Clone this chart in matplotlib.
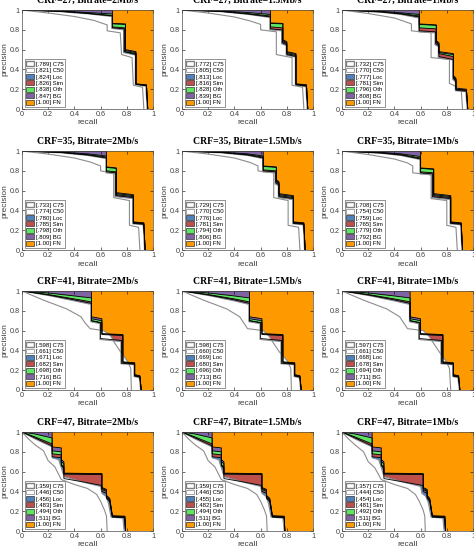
import matplotlib
matplotlib.use("Agg")
import matplotlib.pyplot as plt
from matplotlib.patches import Patch

# ---- data : precision/recall curves (recall, precision)
# CRF=27, 2Mb/s
a_c75 = [(0, 1), (0.2, 0.97), (0.4, 0.935), (0.55, 0.895), (0.65, 0.85), (0.65, 0.79), (0.75, 0.77), (0.76, 0.55), (0.84, 0.52), (0.85, 0.24), (0.92, 0.22), (0.93, 0)]
a_c50 = [(0, 1), (0.3, 0.983), (0.5, 0.962), (0.685, 0.935), (0.685, 0.815), (0.775, 0.8), (0.775, 0.57), (0.865, 0.545), (0.865, 0.245), (0.945, 0.23), (0.955, 0)]
a_loc = [(0, 1), (0.3, 0.985), (0.5, 0.965), (0.69, 0.94), (0.69, 0.82), (0.78, 0.81), (0.78, 0.58), (0.87, 0.55), (0.87, 0.25), (0.95, 0.235), (0.96, 0)]
a_sim = [(0, 1), (0.3, 0.987), (0.5, 0.968), (0.69, 0.945), (0.69, 0.83), (0.785, 0.82), (0.785, 0.58), (0.87, 0.56), (0.87, 0.25), (0.95, 0.24), (0.96, 0)]
a_oth = [(0, 1), (0.3, 0.99), (0.5, 0.975), (0.69, 0.96), (0.69, 0.86), (0.79, 0.855), (0.79, 0.59), (0.87, 0.57), (0.87, 0.25), (0.95, 0.24), (0.96, 0)]
a_bg = [(0, 1), (0.69, 1), (0.69, 0.865), (0.79, 0.86), (0.79, 0.6), (0.87, 0.58), (0.87, 0.255), (0.95, 0.245), (0.96, 0)]
a_ap = [".789", ".821", ".824", ".826", ".838", ".847", "1.00"]

# CRF=27, 1.5Mb/s
b_c75 = [(0, 1), (0.2, 0.97), (0.4, 0.93), (0.52, 0.89), (0.6, 0.855), (0.6, 0.8), (0.72, 0.78), (0.72, 0.55), (0.84, 0.52), (0.84, 0.24), (0.92, 0.22), (0.93, 0)]
b_c50 = [(0, 1), (0.3, 0.983), (0.5, 0.957), (0.67, 0.925), (0.67, 0.8), (0.76, 0.79), (0.76, 0.66), (0.795, 0.64), (0.795, 0.545), (0.865, 0.525), (0.865, 0.24), (0.945, 0.225), (0.955, 0)]
b_loc = [(0, 1), (0.3, 0.985), (0.5, 0.96), (0.675, 0.93), (0.675, 0.81), (0.765, 0.8), (0.765, 0.67), (0.8, 0.65), (0.8, 0.55), (0.87, 0.53), (0.87, 0.245), (0.95, 0.23), (0.96, 0)]
b_sim = [(0, 1), (0.3, 0.987), (0.5, 0.965), (0.675, 0.94), (0.675, 0.83), (0.77, 0.82), (0.77, 0.68), (0.8, 0.66), (0.8, 0.56), (0.87, 0.54), (0.87, 0.25), (0.95, 0.235), (0.96, 0)]
b_oth = [(0, 1), (0.3, 0.99), (0.5, 0.975), (0.675, 0.955), (0.675, 0.865), (0.77, 0.86), (0.77, 0.69), (0.8, 0.67), (0.8, 0.57), (0.87, 0.55), (0.87, 0.25), (0.95, 0.24), (0.96, 0)]
b_bg = [(0, 1), (0.675, 1), (0.675, 0.87), (0.77, 0.865), (0.77, 0.7), (0.8, 0.68), (0.8, 0.58), (0.87, 0.56), (0.87, 0.255), (0.95, 0.245), (0.96, 0)]
b_ap = [".772", ".805", ".813", ".816", ".828", ".839", "1.00"]

# CRF=27, 1Mb/s
c_c75 = [(0, 1), (0.2, 0.965), (0.4, 0.92), (0.53, 0.86), (0.53, 0.79), (0.68, 0.77), (0.68, 0.52), (0.82, 0.5), (0.82, 0.26), (0.91, 0.2), (0.92, 0)]
c_c50 = [(0, 1), (0.3, 0.977), (0.45, 0.955), (0.585, 0.92), (0.585, 0.78), (0.71, 0.77), (0.71, 0.65), (0.735, 0.63), (0.735, 0.52), (0.845, 0.495), (0.845, 0.3), (0.865, 0.275), (0.865, 0.185), (0.945, 0.175), (0.955, 0)]
c_loc = [(0, 1), (0.3, 0.98), (0.45, 0.96), (0.59, 0.93), (0.59, 0.79), (0.715, 0.78), (0.715, 0.66), (0.74, 0.64), (0.74, 0.53), (0.85, 0.5), (0.85, 0.31), (0.87, 0.28), (0.87, 0.19), (0.95, 0.18), (0.96, 0)]
c_sim = [(0, 1), (0.3, 0.983), (0.45, 0.965), (0.59, 0.94), (0.59, 0.82), (0.72, 0.81), (0.72, 0.67), (0.74, 0.65), (0.74, 0.56), (0.85, 0.53), (0.85, 0.32), (0.87, 0.29), (0.87, 0.2), (0.95, 0.19), (0.96, 0)]
c_oth = [(0, 1), (0.3, 0.987), (0.45, 0.972), (0.59, 0.955), (0.59, 0.855), (0.72, 0.845), (0.72, 0.68), (0.74, 0.66), (0.74, 0.57), (0.85, 0.55), (0.85, 0.33), (0.87, 0.3), (0.87, 0.2), (0.95, 0.19), (0.96, 0)]
c_bg = [(0, 1), (0.59, 1), (0.59, 0.86), (0.72, 0.85), (0.72, 0.69), (0.74, 0.67), (0.74, 0.58), (0.85, 0.56), (0.85, 0.34), (0.87, 0.31), (0.87, 0.21), (0.95, 0.2), (0.96, 0)]
c_ap = [".732", ".770", ".777", ".781", ".796", ".808", "1.00"]

# CRF=35, 2Mb/s
d_c75 = [(0, 1), (0.2, 0.97), (0.4, 0.93), (0.52, 0.89), (0.6, 0.85), (0.6, 0.8), (0.7, 0.78), (0.7, 0.53), (0.82, 0.5), (0.82, 0.25), (0.89, 0.23), (0.9, 0)]
d_c50 = [(0, 1), (0.3, 0.982), (0.5, 0.956), (0.64, 0.925), (0.64, 0.78), (0.71, 0.77), (0.71, 0.54), (0.845, 0.52), (0.845, 0.265), (0.925, 0.255), (0.935, 0)]
d_loc = [(0, 1), (0.3, 0.985), (0.5, 0.96), (0.645, 0.93), (0.645, 0.79), (0.715, 0.78), (0.715, 0.55), (0.85, 0.53), (0.85, 0.27), (0.93, 0.26), (0.94, 0)]
d_sim = [(0, 1), (0.3, 0.987), (0.5, 0.965), (0.645, 0.94), (0.645, 0.8), (0.72, 0.79), (0.72, 0.56), (0.85, 0.54), (0.85, 0.275), (0.93, 0.265), (0.94, 0)]
d_oth = [(0, 1), (0.3, 0.99), (0.5, 0.972), (0.645, 0.95), (0.645, 0.835), (0.72, 0.825), (0.72, 0.57), (0.85, 0.55), (0.85, 0.28), (0.93, 0.27), (0.94, 0)]
d_bg = [(0, 1), (0.645, 1), (0.645, 0.84), (0.72, 0.83), (0.72, 0.58), (0.85, 0.56), (0.85, 0.285), (0.93, 0.275), (0.94, 0)]
d_ap = [".733", ".774", ".780", ".785", ".798", ".809", "1.00"]

# CRF=35, 1.5Mb/s
e_c75 = [(0, 1), (0.2, 0.97), (0.4, 0.93), (0.52, 0.885), (0.58, 0.85), (0.58, 0.8), (0.7, 0.78), (0.7, 0.53), (0.81, 0.5), (0.81, 0.25), (0.89, 0.23), (0.9, 0)]
e_c50 = [(0, 1), (0.3, 0.982), (0.5, 0.956), (0.615, 0.925), (0.615, 0.79), (0.71, 0.78), (0.71, 0.67), (0.735, 0.65), (0.735, 0.53), (0.845, 0.51), (0.845, 0.265), (0.925, 0.255), (0.935, 0)]
e_loc = [(0, 1), (0.3, 0.985), (0.5, 0.96), (0.62, 0.93), (0.62, 0.8), (0.715, 0.79), (0.715, 0.68), (0.74, 0.66), (0.74, 0.54), (0.85, 0.52), (0.85, 0.27), (0.93, 0.26), (0.94, 0)]
e_sim = [(0, 1), (0.3, 0.987), (0.5, 0.965), (0.62, 0.94), (0.62, 0.81), (0.72, 0.8), (0.72, 0.69), (0.74, 0.67), (0.74, 0.55), (0.85, 0.53), (0.85, 0.275), (0.93, 0.265), (0.94, 0)]
e_oth = [(0, 1), (0.3, 0.99), (0.5, 0.972), (0.62, 0.95), (0.62, 0.845), (0.72, 0.835), (0.72, 0.7), (0.74, 0.68), (0.74, 0.56), (0.85, 0.54), (0.85, 0.28), (0.93, 0.27), (0.94, 0)]
e_bg = [(0, 1), (0.62, 1), (0.62, 0.85), (0.72, 0.84), (0.72, 0.71), (0.74, 0.69), (0.74, 0.57), (0.85, 0.55), (0.85, 0.285), (0.93, 0.275), (0.94, 0)]
e_ap = [".729", ".770", ".776", ".781", ".794", ".806", "1.00"]

# CRF=35, 1Mb/s
f_c75 = [(0, 1), (0.2, 0.965), (0.4, 0.92), (0.5, 0.88), (0.54, 0.85), (0.54, 0.78), (0.68, 0.76), (0.68, 0.52), (0.8, 0.5), (0.8, 0.25), (0.87, 0.23), (0.88, 0)]
f_c50 = [(0, 1), (0.3, 0.977), (0.45, 0.955), (0.595, 0.915), (0.595, 0.77), (0.685, 0.76), (0.685, 0.53), (0.825, 0.51), (0.825, 0.265), (0.905, 0.255), (0.915, 0)]
f_loc = [(0, 1), (0.3, 0.98), (0.45, 0.96), (0.6, 0.92), (0.6, 0.78), (0.69, 0.77), (0.69, 0.54), (0.83, 0.52), (0.83, 0.27), (0.91, 0.26), (0.92, 0)]
f_sim = [(0, 1), (0.3, 0.983), (0.45, 0.965), (0.6, 0.93), (0.6, 0.79), (0.7, 0.78), (0.7, 0.55), (0.83, 0.53), (0.83, 0.275), (0.91, 0.265), (0.92, 0)]
f_oth = [(0, 1), (0.3, 0.987), (0.45, 0.972), (0.6, 0.945), (0.6, 0.825), (0.7, 0.815), (0.7, 0.56), (0.83, 0.54), (0.83, 0.28), (0.91, 0.27), (0.92, 0)]
f_bg = [(0, 1), (0.6, 1), (0.6, 0.83), (0.7, 0.82), (0.7, 0.57), (0.83, 0.55), (0.83, 0.285), (0.91, 0.275), (0.92, 0)]
f_ap = [".708", ".754", ".759", ".765", ".779", ".792", "1.00"]

# CRF=41, 2Mb/s
g_c75 = [(0, 1), (0.16, 0.91), (0.34, 0.82), (0.45, 0.74), (0.48, 0.68), (0.52, 0.62), (0.62, 0.6), (0.67, 0.56), (0.71, 0.47), (0.75, 0.39), (0.8, 0.3), (0.83, 0.22), (0.835, 0)]
g_c50 = [(0, 1), (0.2, 0.955), (0.4, 0.9), (0.525, 0.865), (0.525, 0.69), (0.595, 0.67), (0.595, 0.51), (0.755, 0.49), (0.755, 0.265), (0.855, 0.255), (0.855, 0.135), (0.895, 0.125), (0.905, 0)]
g_loc = [(0, 1), (0.2, 0.96), (0.4, 0.91), (0.53, 0.875), (0.53, 0.7), (0.6, 0.68), (0.6, 0.52), (0.76, 0.5), (0.76, 0.27), (0.86, 0.26), (0.86, 0.14), (0.9, 0.13), (0.91, 0)]
g_sim = [(0, 1), (0.2, 0.965), (0.4, 0.92), (0.53, 0.89), (0.53, 0.7), (0.61, 0.68), (0.61, 0.56), (0.77, 0.55), (0.77, 0.275), (0.86, 0.265), (0.86, 0.145), (0.9, 0.135), (0.91, 0)]
g_oth = [(0, 1), (0.2, 0.98), (0.4, 0.95), (0.53, 0.93), (0.53, 0.72), (0.61, 0.7), (0.61, 0.565), (0.77, 0.555), (0.77, 0.28), (0.86, 0.27), (0.86, 0.15), (0.9, 0.14), (0.91, 0)]
g_bg = [(0, 1), (0.53, 1), (0.53, 0.74), (0.61, 0.72), (0.61, 0.57), (0.77, 0.56), (0.77, 0.285), (0.86, 0.275), (0.86, 0.155), (0.9, 0.145), (0.91, 0)]
g_ap = [".598", ".661", ".671", ".682", ".698", ".716", "1.00"]

# CRF=41, 1.5Mb/s
h_c75 = [(0, 1), (0.16, 0.91), (0.34, 0.82), (0.44, 0.74), (0.47, 0.68), (0.5, 0.62), (0.62, 0.6), (0.66, 0.55), (0.7, 0.47), (0.74, 0.39), (0.8, 0.3), (0.83, 0.22), (0.835, 0)]
h_c50 = [(0, 1), (0.2, 0.955), (0.4, 0.9), (0.51, 0.865), (0.51, 0.69), (0.595, 0.67), (0.595, 0.51), (0.755, 0.49), (0.755, 0.265), (0.855, 0.255), (0.855, 0.135), (0.895, 0.125), (0.905, 0)]
h_loc = [(0, 1), (0.2, 0.96), (0.4, 0.91), (0.515, 0.875), (0.515, 0.7), (0.6, 0.68), (0.6, 0.52), (0.76, 0.5), (0.76, 0.27), (0.86, 0.26), (0.86, 0.14), (0.9, 0.13), (0.91, 0)]
h_sim = [(0, 1), (0.2, 0.965), (0.4, 0.92), (0.515, 0.89), (0.515, 0.7), (0.61, 0.68), (0.61, 0.56), (0.77, 0.55), (0.77, 0.275), (0.86, 0.265), (0.86, 0.145), (0.9, 0.135), (0.91, 0)]
h_oth = [(0, 1), (0.2, 0.98), (0.4, 0.95), (0.515, 0.93), (0.515, 0.72), (0.61, 0.7), (0.61, 0.565), (0.77, 0.555), (0.77, 0.28), (0.86, 0.27), (0.86, 0.15), (0.9, 0.14), (0.91, 0)]
h_bg = [(0, 1), (0.515, 1), (0.515, 0.74), (0.61, 0.72), (0.61, 0.57), (0.77, 0.56), (0.77, 0.285), (0.86, 0.275), (0.86, 0.155), (0.9, 0.145), (0.91, 0)]
h_ap = [".598", ".660", ".669", ".680", ".696", ".713", "1.00"]

# CRF=41, 1Mb/s
i_c75 = [(0, 1), (0.16, 0.91), (0.34, 0.82), (0.44, 0.74), (0.47, 0.68), (0.5, 0.62), (0.62, 0.6), (0.66, 0.55), (0.7, 0.47), (0.74, 0.39), (0.79, 0.3), (0.82, 0.22), (0.83, 0)]
i_c50 = [(0, 1), (0.2, 0.955), (0.4, 0.9), (0.515, 0.865), (0.515, 0.69), (0.585, 0.67), (0.585, 0.51), (0.755, 0.49), (0.755, 0.265), (0.845, 0.255), (0.845, 0.135), (0.885, 0.125), (0.895, 0)]
i_loc = [(0, 1), (0.2, 0.96), (0.4, 0.91), (0.52, 0.875), (0.52, 0.7), (0.59, 0.68), (0.59, 0.52), (0.76, 0.5), (0.76, 0.27), (0.85, 0.26), (0.85, 0.14), (0.89, 0.13), (0.9, 0)]
i_sim = [(0, 1), (0.2, 0.965), (0.4, 0.92), (0.52, 0.89), (0.52, 0.7), (0.6, 0.68), (0.6, 0.56), (0.77, 0.55), (0.77, 0.275), (0.85, 0.265), (0.85, 0.145), (0.89, 0.135), (0.9, 0)]
i_oth = [(0, 1), (0.2, 0.98), (0.4, 0.95), (0.52, 0.93), (0.52, 0.72), (0.6, 0.7), (0.6, 0.565), (0.77, 0.555), (0.77, 0.28), (0.85, 0.27), (0.85, 0.15), (0.89, 0.14), (0.9, 0)]
i_bg = [(0, 1), (0.52, 1), (0.52, 0.74), (0.6, 0.72), (0.6, 0.57), (0.77, 0.56), (0.77, 0.285), (0.85, 0.275), (0.85, 0.155), (0.89, 0.145), (0.9, 0)]
i_ap = [".597", ".661", ".668", ".678", ".694", ".711", "1.00"]

# CRF=47, 2Mb/s
j_c75 = [(0, 1), (0.05, 0.93), (0.1, 0.87), (0.165, 0.81), (0.2, 0.71), (0.25, 0.65), (0.3, 0.52), (0.4, 0.47), (0.5, 0.43), (0.57, 0.37), (0.6, 0.3), (0.63, 0.21), (0.645, 0.15), (0.65, 0)]
j_c50 = [(0, 1), (0.1, 0.93), (0.23, 0.85), (0.23, 0.74), (0.28, 0.72), (0.3, 0.64), (0.32, 0.55), (0.45, 0.5), (0.6, 0.45), (0.61, 0.38), (0.64, 0.35), (0.66, 0.28), (0.68, 0.14), (0.77, 0.13), (0.78, 0)]
j_loc = [(0, 1), (0.1, 0.94), (0.23, 0.86), (0.23, 0.75), (0.3, 0.74), (0.3, 0.66), (0.32, 0.63), (0.32, 0.53), (0.45, 0.5), (0.61, 0.46), (0.61, 0.4), (0.645, 0.38), (0.645, 0.33), (0.67, 0.3), (0.69, 0.14), (0.785, 0.135), (0.79, 0)]
j_sim = [(0, 1), (0.1, 0.95), (0.23, 0.88), (0.23, 0.78), (0.3, 0.77), (0.3, 0.67), (0.32, 0.65), (0.32, 0.575), (0.61, 0.57), (0.61, 0.42), (0.645, 0.4), (0.645, 0.34), (0.67, 0.31), (0.69, 0.145), (0.785, 0.14), (0.79, 0)]
j_oth = [(0, 1), (0.1, 0.98), (0.23, 0.94), (0.23, 0.81), (0.3, 0.8), (0.3, 0.7), (0.32, 0.68), (0.32, 0.58), (0.61, 0.575), (0.61, 0.43), (0.645, 0.41), (0.645, 0.35), (0.67, 0.32), (0.69, 0.15), (0.785, 0.145), (0.79, 0)]
j_bg = [(0, 1), (0.23, 1), (0.23, 0.85), (0.3, 0.84), (0.3, 0.72), (0.32, 0.7), (0.32, 0.585), (0.61, 0.58), (0.61, 0.44), (0.645, 0.42), (0.645, 0.36), (0.67, 0.33), (0.69, 0.155), (0.785, 0.15), (0.79, 0)]
j_ap = [".359", ".446", ".456", ".483", ".494", ".511", "1.00"]

# CRF=47, 1.5Mb/s
k_c75 = [(0, 1), (0.05, 0.93), (0.1, 0.87), (0.165, 0.81), (0.2, 0.71), (0.25, 0.65), (0.3, 0.52), (0.4, 0.47), (0.5, 0.43), (0.57, 0.37), (0.6, 0.3), (0.63, 0.21), (0.645, 0.15), (0.65, 0)]
k_c50 = [(0, 1), (0.1, 0.93), (0.23, 0.85), (0.23, 0.74), (0.28, 0.72), (0.3, 0.64), (0.32, 0.55), (0.45, 0.5), (0.6, 0.45), (0.61, 0.38), (0.64, 0.35), (0.66, 0.28), (0.68, 0.14), (0.77, 0.13), (0.78, 0)]
k_loc = [(0, 1), (0.1, 0.94), (0.23, 0.86), (0.23, 0.75), (0.3, 0.74), (0.3, 0.66), (0.32, 0.63), (0.32, 0.53), (0.45, 0.5), (0.61, 0.46), (0.61, 0.4), (0.645, 0.38), (0.645, 0.33), (0.67, 0.3), (0.69, 0.14), (0.78, 0.135), (0.785, 0)]
k_sim = [(0, 1), (0.1, 0.95), (0.23, 0.88), (0.23, 0.78), (0.3, 0.77), (0.3, 0.67), (0.32, 0.65), (0.32, 0.575), (0.61, 0.57), (0.61, 0.42), (0.645, 0.4), (0.645, 0.34), (0.67, 0.31), (0.69, 0.145), (0.78, 0.14), (0.785, 0)]
k_oth = [(0, 1), (0.1, 0.98), (0.23, 0.94), (0.23, 0.81), (0.3, 0.8), (0.3, 0.7), (0.32, 0.68), (0.32, 0.58), (0.61, 0.575), (0.61, 0.43), (0.645, 0.41), (0.645, 0.35), (0.67, 0.32), (0.69, 0.15), (0.78, 0.145), (0.785, 0)]
k_bg = [(0, 1), (0.23, 1), (0.23, 0.85), (0.3, 0.84), (0.3, 0.72), (0.32, 0.7), (0.32, 0.585), (0.61, 0.58), (0.61, 0.44), (0.645, 0.42), (0.645, 0.36), (0.67, 0.33), (0.69, 0.155), (0.78, 0.15), (0.785, 0)]
k_ap = [".359", ".446", ".455", ".482", ".494", ".511", "1.00"]

# CRF=47, 1Mb/s
l_c75 = [(0, 1), (0.05, 0.93), (0.1, 0.87), (0.165, 0.8), (0.2, 0.7), (0.25, 0.64), (0.3, 0.52), (0.4, 0.47), (0.5, 0.43), (0.56, 0.37), (0.59, 0.3), (0.62, 0.21), (0.632, 0.15), (0.636, 0)]
l_c50 = [(0, 1), (0.1, 0.93), (0.23, 0.85), (0.23, 0.74), (0.28, 0.72), (0.3, 0.64), (0.32, 0.55), (0.45, 0.5), (0.6, 0.45), (0.61, 0.38), (0.64, 0.35), (0.66, 0.28), (0.68, 0.14), (0.77, 0.13), (0.78, 0)]
l_loc = [(0, 1), (0.1, 0.94), (0.23, 0.86), (0.23, 0.75), (0.3, 0.74), (0.3, 0.66), (0.32, 0.63), (0.32, 0.53), (0.45, 0.5), (0.62, 0.46), (0.62, 0.4), (0.65, 0.38), (0.65, 0.33), (0.67, 0.3), (0.69, 0.14), (0.785, 0.135), (0.79, 0)]
l_sim = [(0, 1), (0.1, 0.95), (0.23, 0.88), (0.23, 0.78), (0.3, 0.77), (0.3, 0.67), (0.32, 0.65), (0.32, 0.575), (0.62, 0.57), (0.62, 0.42), (0.65, 0.4), (0.65, 0.34), (0.67, 0.31), (0.69, 0.145), (0.785, 0.14), (0.79, 0)]
l_oth = [(0, 1), (0.1, 0.98), (0.23, 0.94), (0.23, 0.81), (0.3, 0.8), (0.3, 0.7), (0.32, 0.68), (0.32, 0.58), (0.62, 0.575), (0.62, 0.43), (0.65, 0.41), (0.65, 0.35), (0.67, 0.32), (0.69, 0.15), (0.785, 0.145), (0.79, 0)]
l_bg = [(0, 1), (0.23, 1), (0.23, 0.85), (0.3, 0.84), (0.3, 0.72), (0.32, 0.7), (0.32, 0.585), (0.62, 0.58), (0.62, 0.44), (0.65, 0.42), (0.65, 0.36), (0.67, 0.33), (0.69, 0.155), (0.785, 0.15), (0.79, 0)]
l_ap = [".357", ".444", ".454", ".481", ".492", ".511", "1.00"]

titles = ["CRF=27, Bitrate=2Mb/s", "CRF=27, Bitrate=1.5Mb/s", "CRF=27, Bitrate=1Mb/s",
          "CRF=35, Bitrate=2Mb/s", "CRF=35, Bitrate=1.5Mb/s", "CRF=35, Bitrate=1Mb/s",
          "CRF=41, Bitrate=2Mb/s", "CRF=41, Bitrate=1.5Mb/s", "CRF=41, Bitrate=1Mb/s",
          "CRF=47, Bitrate=2Mb/s", "CRF=47, Bitrate=1.5Mb/s", "CRF=47, Bitrate=1Mb/s"]
names = ["C75", "C50", "Loc", "Sim", "Oth", "BG", "FN"]

panels = [
    ([a_c75, a_c50, a_loc, a_sim, a_oth, a_bg], a_ap),
    ([b_c75, b_c50, b_loc, b_sim, b_oth, b_bg], b_ap),
    ([c_c75, c_c50, c_loc, c_sim, c_oth, c_bg], c_ap),
    ([d_c75, d_c50, d_loc, d_sim, d_oth, d_bg], d_ap),
    ([e_c75, e_c50, e_loc, e_sim, e_oth, e_bg], e_ap),
    ([f_c75, f_c50, f_loc, f_sim, f_oth, f_bg], f_ap),
    ([g_c75, g_c50, g_loc, g_sim, g_oth, g_bg], g_ap),
    ([h_c75, h_c50, h_loc, h_sim, h_oth, h_bg], h_ap),
    ([i_c75, i_c50, i_loc, i_sim, i_oth, i_bg], i_ap),
    ([j_c75, j_c50, j_loc, j_sim, j_oth, j_bg], j_ap),
    ([k_c75, k_c50, k_loc, k_sim, k_oth, k_bg], k_ap),
    ([l_c75, l_c50, l_loc, l_sim, l_oth, l_bg], l_ap),
]

# ---- style
fills = [(1, 1, 1), (1, 1, 1), (.31, .51, .74), (.75, .31, .30), (.36, .90, .38), (.50, .39, .64), (1, .6, 0)]
lines = ["0.55", "0.55", "k", "k", "k", "k"]
sans = "Liberation Sans"

fig = plt.figure(figsize=(4.74, 5.52), dpi=100)
lefts = [0.0464, 0.384, 0.7215]
bottoms = [0.8025, 0.547, 0.2935, 0.038]
w, h = 0.2764, 0.1793

for n, (curves, ap) in enumerate(panels):
    ax = fig.add_axes([lefts[n % 3], bottoms[n // 3], w, h])
    ax.set_facecolor(fills[6])
    # fill from BG (top) down to C75
    for k in range(5, -1, -1):
        r = [pt[0] for pt in curves[k]] + [0]
        p = [pt[1] for pt in curves[k]] + [0]
        ax.fill(r, p, color=fills[k], lw=0)
    for k in range(6):
        r = [pt[0] for pt in curves[k]]
        p = [pt[1] for pt in curves[k]]
        ax.plot(r, p, color=lines[k], lw=0.6 if k > 1 else 0.8)
    ax.set_xlim(0, 1)
    ax.set_ylim(0, 1)
    ticks = [0, 0.2, 0.4, 0.6, 0.8, 1]
    tl = ["0", "0.2", "0.4", "0.6", "0.8", "1"]
    ax.set_xticks(ticks)
    ax.set_xticklabels(tl, fontsize=5.2, family=sans, color="0.25")
    ax.set_yticks(ticks)
    ax.set_yticklabels(tl, fontsize=5.2, family=sans, color="0.25")
    ax.tick_params(direction="in", length=2, width=0.4, pad=1.5, top=True, right=True)
    for s in ax.spines.values():
        s.set_linewidth(0.5)
        s.set_color("0.3")
    ax.set_xlabel("recall", fontsize=6, family=sans, color="0.25", labelpad=1)
    ax.set_ylabel("precision", fontsize=6, family=sans, color="0.25", labelpad=1)
    ax.set_title(titles[n], fontsize=7, family="Liberation Serif", fontweight="bold", pad=5)

    handles = []
    for k in range(7):
        ec = "0.5" if k < 2 else "0.2"
        handles.append(Patch(facecolor=fills[k], edgecolor=ec, lw=1.0 if k == 0 else 0.5))
    labels = ["[%s] %s" % (ap[k], names[k]) for k in range(7)]
    leg = ax.legend(handles, labels, loc="lower left", bbox_to_anchor=(0.02, 0.02),
                    prop={"family": sans, "size": 4.3}, handlelength=1.3, handleheight=0.9,
                    handletextpad=0.3, labelspacing=0.15, borderpad=0.3, borderaxespad=0,
                    fancybox=False, framealpha=1, edgecolor="0.4")
    leg.get_frame().set_linewidth(0.5)

fig.savefig("out.png", dpi=100)
